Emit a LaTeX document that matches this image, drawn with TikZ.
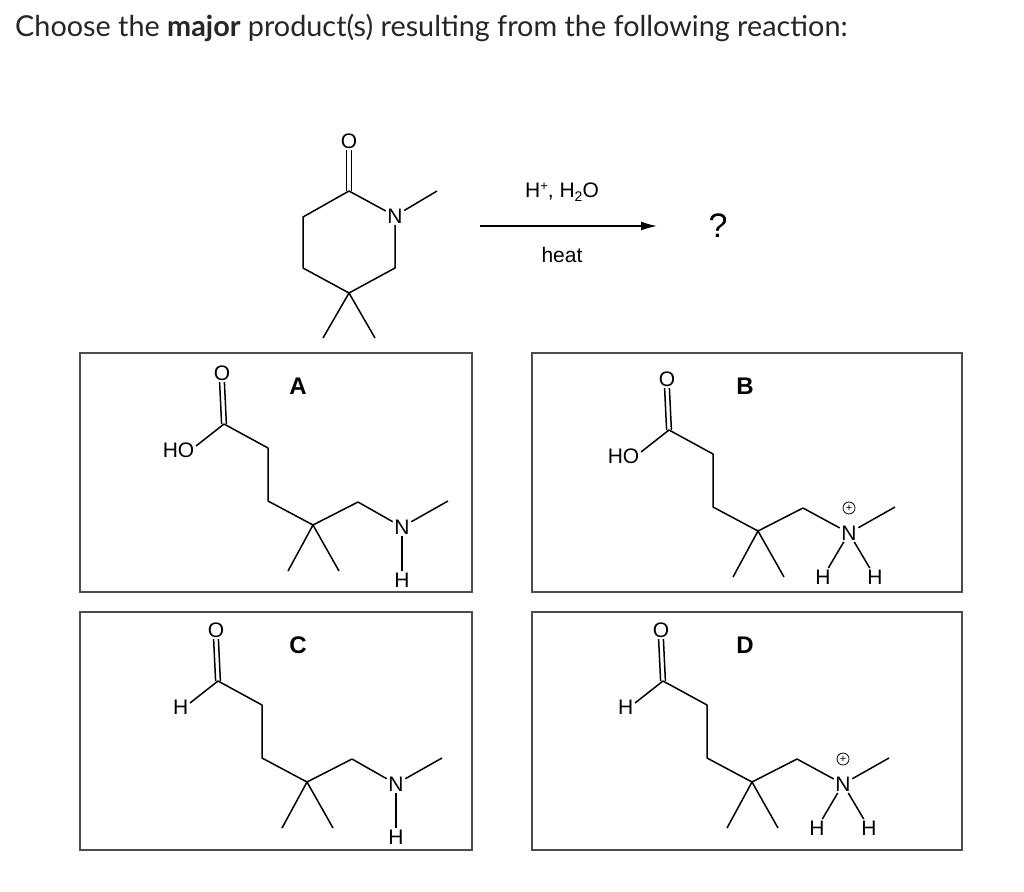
\documentclass[tikz,border=0pt]{standalone}
\usepackage{fontspec}
\usetikzlibrary{arrows.meta}
\setmainfont{Lato}
\newfontfamily\chemf{Liberation Sans}
\tikzset{
  bondl/.style={line width=1.5pt,black},
  atom/.style={font=\chemf\fontsize{21}{21}\selectfont,inner sep=1.5pt},
  lbl/.style={font=\chemf\bfseries\fontsize{24}{24}\selectfont},
  ansbox/.style={draw=black!70,line width=1.5pt},
  chg/.style={circle,draw,line width=0.8pt,inner sep=0pt,minimum size=12pt,font=\chemf\fontsize{11}{11}\selectfont}
}
\newcommand\chainmol[4]{% prefix, x, y, left label
\begin{scope}[shift={(#2,#3)}]
 \node[atom] (#1O) at (-91,-152) {O};
 \coordinate (#1C) at (-89,-101);
 \node[atom,anchor=east] (#1L) at (-117,-75) {#4};
 \coordinate (#1a) at (-45,-77);
 \coordinate (#1b) at (-45,-24);
 \coordinate (#1q) at (0,0);
 \coordinate (#1m) at (-25,46);
 \coordinate (#1n) at (26,46);
 \coordinate (#1c) at (45,-23);
 \draw[bondl] ([xshift=-2.4pt]#1C) -- ([xshift=-2.4pt]#1O.south);
 \draw[bondl] ([xshift=2.4pt]#1C) -- ([xshift=2.4pt]#1O.south);
 \draw[bondl] (#1L.east) ++(0,-4) -- (#1C);
 \draw[bondl,line join=round] (#1C) -- (#1a) -- (#1b) -- (#1q) -- (#1c);
 \draw[bondl] (#1m) -- (#1q) -- (#1n);
\end{scope}}
\newcommand\aminepart[3]{% prefix x y
\begin{scope}[shift={(#2,#3)}]
 \node[atom] (#1N) at (89,2) {N};
 \node[atom] (#1H) at (89,55) {H};
 \coordinate (#1e) at (135,-24);
 \draw[bondl] (#1c) -- (#1N) -- (#1e);
 \draw[bondl] (#1N) -- (#1H);
\end{scope}}
\newcommand\ammpart[3]{% prefix x y
\begin{scope}[shift={(#2,#3)}]
 \node[atom] (#1N) at (91,2) {N};
 \node[chg] (#1p) at (91,-23) {+};
 \node[atom] (#1H) at (65,46) {H};
 \node[atom] (#1G) at (117,46) {H};
 \coordinate (#1e) at (137,-24);
 \draw[bondl] (#1c) -- (#1N) -- (#1e);
 \draw[bondl] (#1N) -- (#1H);
 \draw[bondl] (#1N) -- (#1G);
\end{scope}}
\begin{document}
\begin{tikzpicture}[x=1pt,y=-1pt]
\useasboundingbox (0,0) rectangle (1024,891);
\fill[white] (0,0) rectangle (1024,891);
\node[anchor=base west,inner sep=0,font=\fontsize{28.8}{28.8}\selectfont,text=black!85] (title) at (15,37)
  {Choose the \textbf{major} product(s) resulting from the following reaction:};
% starting material
\node[atom] (sO) at (349,141) {O};
\coordinate (sC) at (349,191);
\node[atom] (sN) at (395,216) {N};
\coordinate (sMe) at (437,191);
\coordinate (sD) at (395,268);
\coordinate (sQ) at (349,293);
\coordinate (sM1) at (323,338);
\coordinate (sM2) at (375,338);
\coordinate (sL1) at (303,217);
\coordinate (sL2) at (303,268);
\draw[bondl] ([xshift=-2.4pt]sC) -- ([xshift=-2.4pt]sO.south);
\draw[bondl] ([xshift=2.4pt]sC) -- ([xshift=2.4pt]sO.south);
\draw[bondl,line join=round] (sN) -- (sC) -- (sL1) -- (sL2) -- (sQ) -- (sD) -- (sN);
\draw[bondl] (sN) -- (sMe);
\draw[bondl] (sM1) -- (sQ) -- (sM2);
% arrow
\coordinate (ar1) at (480,226);
\coordinate (ar2) at (657,226);
\draw[line width=1.5pt,-{Latex[length=16pt,width=9pt]}] (ar1) -- (ar2);
\node[atom] (cond1) at (562,192) {H\raisebox{0.6ex}{\fontsize{13}{13}\selectfont+}, H\raisebox{-0.4ex}{\fontsize{14}{14}\selectfont 2}O};
\node[atom] (cond2) at (562,255) {heat};
\node[font=\chemf\fontsize{34}{34}\selectfont] (q) at (718,226) {?};
% boxes
\draw[ansbox] (80,353) rectangle (472,592);
\draw[ansbox] (532,353) rectangle (962,592);
\draw[ansbox] (80,612) rectangle (472,850);
\draw[ansbox] (532,612) rectangle (962,850);
\node[lbl] (lA) at (298,386) {A};
\node[lbl] (lB) at (745,386) {B};
\node[lbl] (lC) at (298,645) {C};
\node[lbl] (lD) at (745,645) {D};
\chainmol{A}{313}{525}{HO}
\aminepart{A}{313}{525}
\chainmol{B}{758}{531}{HO}
\ammpart{B}{758}{531}
\chainmol{C}{307}{782}{H}
\aminepart{C}{307}{782}
\chainmol{D}{752}{782}{H}
\ammpart{D}{752}{782}
\end{tikzpicture}
\end{document}
